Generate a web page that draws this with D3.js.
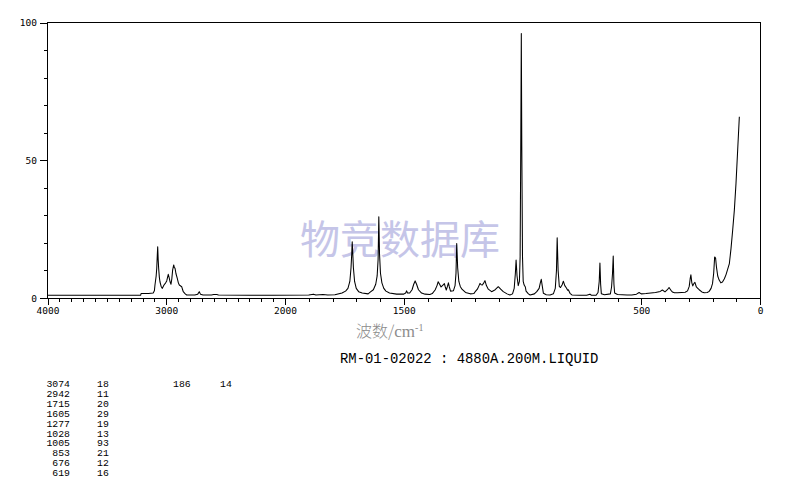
<!DOCTYPE html>
<html>
<head>
<meta charset="utf-8">
<script src="https://cdn.jsdelivr.net/npm/d3@7/dist/d3.min.js"></script>
<style>
  html, body { margin: 0; padding: 0; background: #fff; }
  svg { display: block; }
</style>
</head>
<body>
<svg id="chart" width="794" height="482"></svg>
<script>
// ---- data ----
const wavenumbers = [
  4000,3800,3600,3400,3216,3212,3150,3110,3100,3095,3085,3080,3076,3072,3068,3064,3058,3053,3043,3033,
  3019,3005,2996,2989,2983,2976,2968,2960,2953,2946,2937,2932,2926,2918,2907,2898,2890,2870,2862,2857,
  2840,2828,2760,2735,2722,2712,2690,2620,2600,2575,2560,2300,2100,1900,1880,1870,1840,1820,1790,1760,
  1745,1735,1727,1722,1719,1717,1715,1712,1707,1700,1690,1675,1650,1640,1628,1618,1612,1608,1605,1602,
  1598,1592,1584,1575,1560,1530,1500,1492,1488,1484,1475,1465,1458,1452,1446,1438,1425,1410,1390,1380,
  1368,1360,1355,1349,1343,1336,1329,1325,1321,1316,1312,1308,1303,1291,1284,1280,1277,1273,1268,1262,
  1255,1240,1220,1205,1200,1190,1183,1179,1174,1169,1163,1158,1152,1144,1130,1115,1102,1092,1081,1065,
  1053,1042,1035,1030,1027,1023,1018,1013,1010,1007,1005,1003,1000,997,993,988,985,975,968,950,
  940,930,925,921,917,912,900,884,870,862,857,854,850,845,840,833,828,822,815,810,
  807,800,792,760,730,716,710,690,682,677,674,671,668,655,630,625,621,618,615,612,
  600,580,560,540,520,509,500,480,460,440,420,411,400,390,383,375,369,360,347,330,
  315,305,298,294,291,287,283,278,274,268,262,256,245,235,222,214,206,200,195,191,
  187,183,178,172,165,158,150,143,136,129,122,115,108,101,94,87
];
const intensity = [
  1.0,1.0,1.0,1.0,1.0,1.6,1.6,1.8,2.6,4.7,8,10.8,15,18.6,14,10.8,7.5,5.9,4.2,3.5,
  4.7,5.5,6.2,7.5,8.6,7.5,5.9,5.0,7,10.2,12,11,10.8,8.8,7.1,5.5,4.7,4.1,3,2.3,
  1.5,1.1,1.1,1.4,2.3,1.4,1.1,1.1,1.3,1.3,1.1,1.0,1.0,1.1,1.4,1.1,1.3,1.1,1.2,1.8,
  2.5,3.5,6,11,16,20.4,17,11,6,3.5,2.3,1.8,1.5,2.2,3,5,8,14,29.5,16,
  9,5.5,3.5,2.5,1.8,1.4,1.4,1.8,2.6,1.8,1.8,3,5,6.2,5,3,1.8,1.4,1.3,1.6,
  2.9,4.5,5.9,5,4.0,4.6,5.2,4,2.9,4.2,5.5,4,2.5,2.6,4.5,9,19.8,11,6,4.2,
  3.2,2,1.5,1.6,2.2,3.2,4.5,5.3,4.8,4.7,5.5,6.3,4.5,3.2,2.3,3,4.1,3.2,2.3,1.5,
  1.1,1.5,3.5,9,13.8,8,4.5,6,15,60,96,55,15,6,4.7,4.0,2.5,1.5,1.1,1.5,
  2.3,3.5,5.5,6.8,4.5,1.7,1.2,1.1,1.5,3.5,10,21.9,10,4.2,3.8,4.8,6.1,4.5,3.6,2.8,
  3,1.7,1.1,1.0,1.0,1.4,1.0,1.0,2,6,12.7,5,1.5,1.2,1.5,4,9,15.2,5,1.8,
  1.3,1.2,1.1,1.1,1.4,2,1.5,1.6,1.8,2.0,2.4,2.9,2.2,3,3.8,2.8,2.2,1.9,1.9,2.0,
  2.1,2.6,4.2,7,8.4,5.5,4.4,5.3,5.7,4,3.5,3,2.2,1.9,2.0,2.4,3.5,5.2,9,14.9,
  14.5,11,8,6.5,5.5,5.8,7,8.5,10.5,12.5,18,24.7,31.9,41.7,53.7,65.8
];
const xTickLabels = [4000, 3000, 2000, 1500, 500, 0];
const yTickLabels = [0, 50, 100];
const peakWavenumbers = ["3074","2942","1715","1605","1277","1028","1005","853","676","619"];
const peakIntensities = ["18","11","20","29","19","13","93","21","12","16"];
const peakWavenumbers2 = ["186"];
const peakIntensities2 = ["14"];
const titleText = "RM-01-02022 : 4880A.200M.LIQUID";
const watermark = "物竞数据库";

// ---- drawing ----
(function () {
const svg = d3.select("#chart");
svg.append("rect").attr("width", 794).attr("height", 482).attr("fill", "#fff");

const pLeft = 47.5, pRight = 760, pTop = 22.5, pBottom = 298;
const x = d3.scaleLinear().domain([4000, 2000, 0]).range([pLeft, 285, pRight]);
const y = d3.scaleLinear().domain([0, 100]).range([pBottom, pTop]);

const mono = "'DejaVu Sans Mono', 'Liberation Mono', monospace";
const mono2 = "'Liberation Mono', 'DejaVu Sans Mono', monospace";

// watermark
svg.append("text")
  .attr("x", 400).attr("y", 254)
  .attr("text-anchor", "middle")
  .attr("font-family", "'Noto Sans CJK SC', sans-serif")
  .attr("font-size", 40)
  .attr("fill", "#c5c5e8")
  .text(watermark);

// minor ticks
const minorX = d3.range(0, 4001, 100);
svg.append("g").attr("transform", `translate(0,${pBottom})`)
  .call(d3.axisBottom(x).tickValues(minorX).tickSize(3.5).tickFormat(""))
  .call(g => g.select(".domain").remove())
  .selectAll("line").attr("shape-rendering", "crispEdges");

const majorX = svg.append("g").attr("transform", `translate(0,${pBottom})`)
  .call(d3.axisBottom(x).tickValues(xTickLabels).tickSize(7).tickPadding(2).tickFormat(d3.format("d")))
  .call(g => g.select(".domain").remove());
majorX.selectAll("line").attr("shape-rendering", "crispEdges");
majorX.selectAll("text").attr("font-family", mono).attr("font-size", 9.5).attr("fill", "#000");

const minorY = d3.range(0, 101, 10);
svg.append("g").attr("transform", `translate(${pLeft},0)`)
  .call(d3.axisLeft(y).tickValues(minorY).tickSize(3.5).tickFormat(""))
  .call(g => g.select(".domain").remove())
  .selectAll("line").attr("shape-rendering", "crispEdges");

const majorY = svg.append("g").attr("transform", `translate(${pLeft},0)`)
  .call(d3.axisLeft(y).tickValues(yTickLabels).tickSize(7.5).tickPadding(3).tickFormat(d3.format("d")))
  .call(g => g.select(".domain").remove());
majorY.selectAll("line").attr("shape-rendering", "crispEdges");
majorY.selectAll("text").attr("font-family", mono).attr("font-size", 9.5).attr("fill", "#000");

// frame
svg.append("rect")
  .attr("x", pLeft).attr("y", pTop)
  .attr("width", pRight - pLeft).attr("height", pBottom - pTop)
  .attr("fill", "none").attr("stroke", "#000").attr("stroke-width", 1)
  .attr("shape-rendering", "crispEdges");

// spectrum
const pts = wavenumbers.map((w, i) => [w, intensity[i]]);
svg.append("path")
  .datum(pts)
  .attr("fill", "none")
  .attr("stroke", "#000")
  .attr("stroke-width", 1.05)
  .attr("stroke-linejoin", "round")
  .attr("d", d3.line().x(d => x(d[0])).y(d => y(d[1])));

// x axis title
const xt = svg.append("text")
  .attr("x", 356).attr("y", 337)
  .attr("font-family", "'Noto Sans CJK SC', sans-serif")
  .attr("font-size", 16)
  .attr("font-weight", 300)
  .attr("fill", "#8c8c8c");
xt.append("tspan").text("波数/");
xt.append("tspan").attr("font-family", "'Liberation Serif', serif").attr("font-size", 17).text("cm");
xt.append("tspan").attr("font-family", "'Liberation Serif', serif").attr("font-size", 10).attr("dy", -6).text("-1");

// title
svg.append("text")
  .attr("x", 340).attr("y", 363)
  .attr("font-family", mono2)
  .attr("font-size", 13.9)
  .attr("fill", "#000")
  .text(titleText);

// peak table
const tbl = svg.append("g").attr("font-family", mono2).attr("font-size", 9.8).attr("fill", "#000");
peakWavenumbers.forEach((v, i) => {
  tbl.append("text").attr("x", 70).attr("y", 387 + i * 9.9).attr("text-anchor", "end").text(v);
  tbl.append("text").attr("x", 97).attr("y", 387 + i * 9.9).text(peakIntensities[i]);
});
peakWavenumbers2.forEach((v, i) => {
  tbl.append("text").attr("x", 173).attr("y", 387 + i * 9.9).text(v);
  tbl.append("text").attr("x", 220).attr("y", 387 + i * 9.9).text(peakIntensities2[i]);
});
})();
</script>
</body>
</html>
